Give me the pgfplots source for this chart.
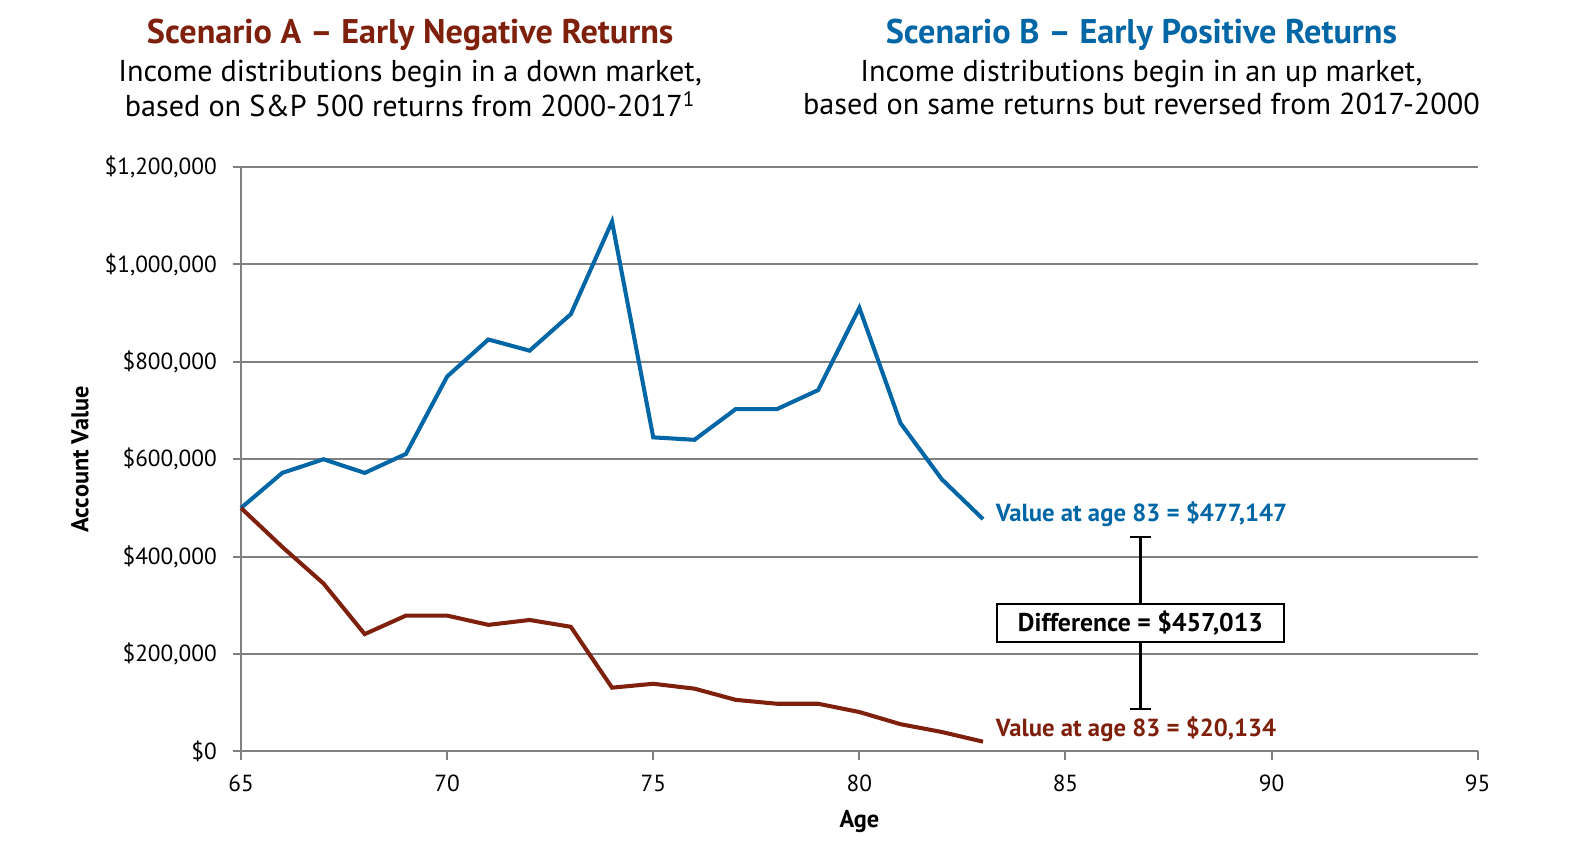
\documentclass[border={0pt -5bp -10bp 0pt}]{standalone}
\usepackage{fontspec}
\setmainfont{PT Sans}
\usepackage{pgfplots}
\pgfplotsset{compat=1.18}

\definecolor{scenA}{RGB}{127,32,12}
\definecolor{scenB}{RGB}{0,102,166}
\definecolor{gridg}{RGB}{128,128,128}

% picture units: 1 px of the reference = 0.5bp
\begin{document}
\begin{tikzpicture}[x=0.5bp,y=0.5bp]
\useasboundingbox (0,0) rectangle (1586,856);

\begin{axis}[
    at={(119bp,57bp)}, anchor=south west,
    scale only axis,
    width=610.5bp, height=288.5bp,
    xmin=65, xmax=95, ymin=0, ymax=1200000,
    clip=false,
    axis x line*=bottom, axis y line*=left,
    axis line style={gridg, line width=1bp},
    xtick={65,70,...,95},
    ytick={0,200000,...,1200000},
    yticklabels={\$0,{\$200,000},{\$400,000},{\$600,000},{\$800,000},{\$1,000,000},{\$1,200,000}},
    scaled y ticks=false,
    /pgf/number format/assume math mode=true,
    ymajorgrids,
    grid style={gridg, line width=1bp},
    tick style={gridg, line width=1bp},
    tick align=outside,
    major tick length=4bp,
    ticklabel style={font=\fontsize{11.5bp}{13bp}\selectfont, black},
    xticklabel style={yshift=-4bp},
    yticklabel style={xshift=-4.5bp},
    xlabel={\textbf{Age}},
    ylabel={\textbf{Account Value}},
    xlabel style={font=\fontsize{12bp}{14bp}\selectfont, yshift=-2.5bp},
    ylabel style={font=\fontsize{12bp}{14bp}\selectfont, yshift=1bp},
  ]
  % Scenario B: early positive returns
  \addplot[scenB, line width=2bp, no marks] coordinates {
    (65,500000) (66,572000) (67,600000) (68,572000) (69,611000)
    (70,770000) (71,846000) (72,823000) (73,898000) (74,1088000)
    (75,645000) (76,640000) (77,703000) (78,703000) (79,742000)
    (80,911000) (81,674000) (82,559000) (83,477147)
  };
  % Scenario A: early negative returns
  \addplot[scenA, line width=2bp, no marks] coordinates {
    (65,500000) (66,420000) (67,345000) (68,241000) (69,279000)
    (70,279000) (71,260000) (72,270000) (73,256000) (74,131000)
    (75,139000) (76,129000) (77,106000) (78,98000) (79,98000)
    (80,81000) (81,56000) (82,40000) (83,20134)
  };

  \node[anchor=west, text=scenB, font=\fontsize{12.2bp}{14bp}\selectfont\bfseries, inner sep=0pt]
    at (axis cs:83.3,488000) {Value at age 83 = \$477,147};
  \node[anchor=west, text=scenA, font=\fontsize{12.2bp}{14bp}\selectfont\bfseries, inner sep=0pt]
    at (axis cs:83.3,46000) {Value at age 83 = \$20,134};

  % difference bracket
  \draw[black, line width=1bp] (axis cs:86.82,441000) -- (axis cs:86.82,87000);
  \draw[black, line width=1bp] (axis cs:86.57,441000) -- (axis cs:87.07,441000);
  \draw[black, line width=1bp] (axis cs:86.57,87000) -- (axis cs:87.07,87000);
  \node[draw=black, line width=1bp, fill=white, font=\fontsize{12.7bp}{14bp}\selectfont\bfseries,
        minimum width=142bp, minimum height=19bp, inner sep=0pt]
    at (axis cs:86.82,264000) {Difference = \$457,013};
\end{axis}

% titles
\node[text=scenA, font=\fontsize{16.9bp}{18bp}\selectfont\bfseries] at (405,822) {Scenario A – Early Negative Returns};
\node[font=\fontsize{14.9bp}{17bp}\selectfont] at (405,783) {Income distributions begin in a down market,};
\node[font=\fontsize{14.9bp}{17bp}\selectfont] at (405,753) {based on S\&P 500 returns from 2000-2017\textsuperscript{1}};

\node[text=scenB, font=\fontsize{16.9bp}{18bp}\selectfont\bfseries] at (1127,822) {Scenario B – Early Positive Returns};
\node[font=\fontsize{14.9bp}{17bp}\selectfont] at (1127,783) {Income distributions begin in an up market,};
\node[font=\fontsize{14.9bp}{17bp}\selectfont] at (1127,753) {based on same returns but reversed from 2017-2000};
\end{tikzpicture}
\end{document}
